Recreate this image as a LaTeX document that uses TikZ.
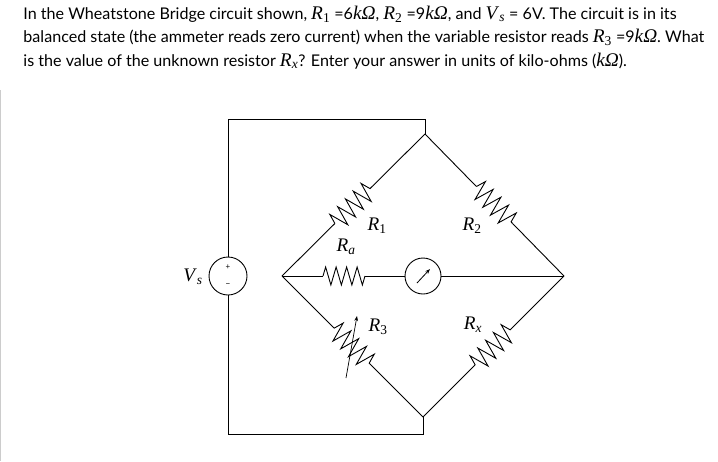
\documentclass[tikz,border=0pt]{standalone}
\usepackage{fontspec}
\setmainfont{Lato}
\newfontfamily\mf[Scale=1.2]{Liberation Serif}
\newcommand\mv[2]{{\mf\itshape #1\/}\textsubscript{\mf\upshape #2}}
\newcommand\mvi[2]{{\mf\itshape #1\/}\textsubscript{\mf\itshape #2}}
\newcommand\kO{{\mf\itshape k}{\mf\itshape Ω}}
\usetikzlibrary{decorations.pathmorphing,arrows.meta,calc}
\begin{document}
\begin{tikzpicture}[x=1pt,y=-1pt,line width=0.9pt,
  res/.style={decorate,decoration={zigzag,segment length=11pt,amplitude=10pt}},
  txt/.style={anchor=west,inner sep=0,font=\fontsize{16.1}{17}\selectfont},
  lbl/.style={font=\fontsize{16}{19}\selectfont}]
\useasboundingbox (0,0) rectangle (718,461);
\draw[gray!40,line width=0.6pt] (0.5,90) -- (0.5,461);
\node[txt] (t1) at (23,14) {In the Wheatstone Bridge circuit shown, \mv{R}{1} =6\kO, \mv{R}{2} =9\kO, and \mvi{V}{s} = 6V. The circuit is in its};
\node[txt] (t2) at (23,37) {balanced state (the ammeter reads zero current) when the variable resistor reads \mv{R}{3} =9\kO. What};
\node[txt] (t3) at (23,61) {is the value of the unknown resistor \mvi{R}{x}? Enter your answer in units of kilo-ohms (\kO).};
\coordinate (T) at (425,134);
\coordinate (L) at (282,276);
\coordinate (R) at (564,276);
\coordinate (B) at (423,417);
\coordinate (TT) at (425,119);
\coordinate (BB) at (423,434);
\node[circle,draw,minimum size=38pt,inner sep=0] (S) at (228,276) {};
\node[font=\fontsize{8}{8}\selectfont] (sp) at (228,267) {+};
\node[font=\fontsize{9}{9}\selectfont] (sm) at (228,285) {--};
\node[circle,draw,minimum size=36pt,inner sep=0] (A) at (423,276) {};
\draw[-{Stealth[length=5pt]},line width=0.8pt] ($(A)+(-6,7)$) -- ($(A)+(7,-7)$);
\draw (S.north) |- (TT) -- (T);
\draw (S.south) |- (BB) -- (B);
\coordinate (r1a) at ($(L)!0.37!(T)$); \coordinate (r1b) at ($(L)!0.63!(T)$);
\coordinate (r2a) at ($(T)!0.37!(R)$); \coordinate (r2b) at ($(T)!0.63!(R)$);
\coordinate (r3a) at ($(L)!0.37!(B)$); \coordinate (r3b) at ($(L)!0.63!(B)$);
\coordinate (rxa) at ($(B)!0.37!(R)$); \coordinate (rxb) at ($(B)!0.63!(R)$);
\draw (L) -- (r1a); \draw[res] (r1a) -- (r1b); \draw (r1b) -- (T);
\draw (T) -- (r2a); \draw[res] (r2a) -- (r2b); \draw (r2b) -- (R);
\draw (L) -- (r3a); \draw[res] (r3a) -- (r3b); \draw (r3b) -- (B);
\draw (B) -- (rxa); \draw[res] (rxa) -- (rxb); \draw (rxb) -- (R);
\draw[-{Stealth[length=5pt]},line width=0.7pt] (346,378) -- (357,316);
\coordinate (raa) at (323,276); \coordinate (rab) at (365,276);
\draw (L) -- (raa); \draw[res,decoration={segment length=10.5pt,amplitude=9pt}] (raa) -- (rab); \draw (rab) -- (A.west);
\draw (A.east) -- (R);
\node[lbl] (l1) at (377,226) {\mv{R}{1}};
\node[lbl] (l2) at (472,226) {\mv{R}{2}};
\node[lbl] (la) at (346,247) {\mvi{R}{a}};
\node[lbl] (l3) at (378,327) {\mv{R}{3}};
\node[lbl] (lx) at (473,325) {\mvi{R}{x}};
\node[lbl] (lv) at (193,277) {\mvi{V}{s}};
\end{tikzpicture}
\end{document}
